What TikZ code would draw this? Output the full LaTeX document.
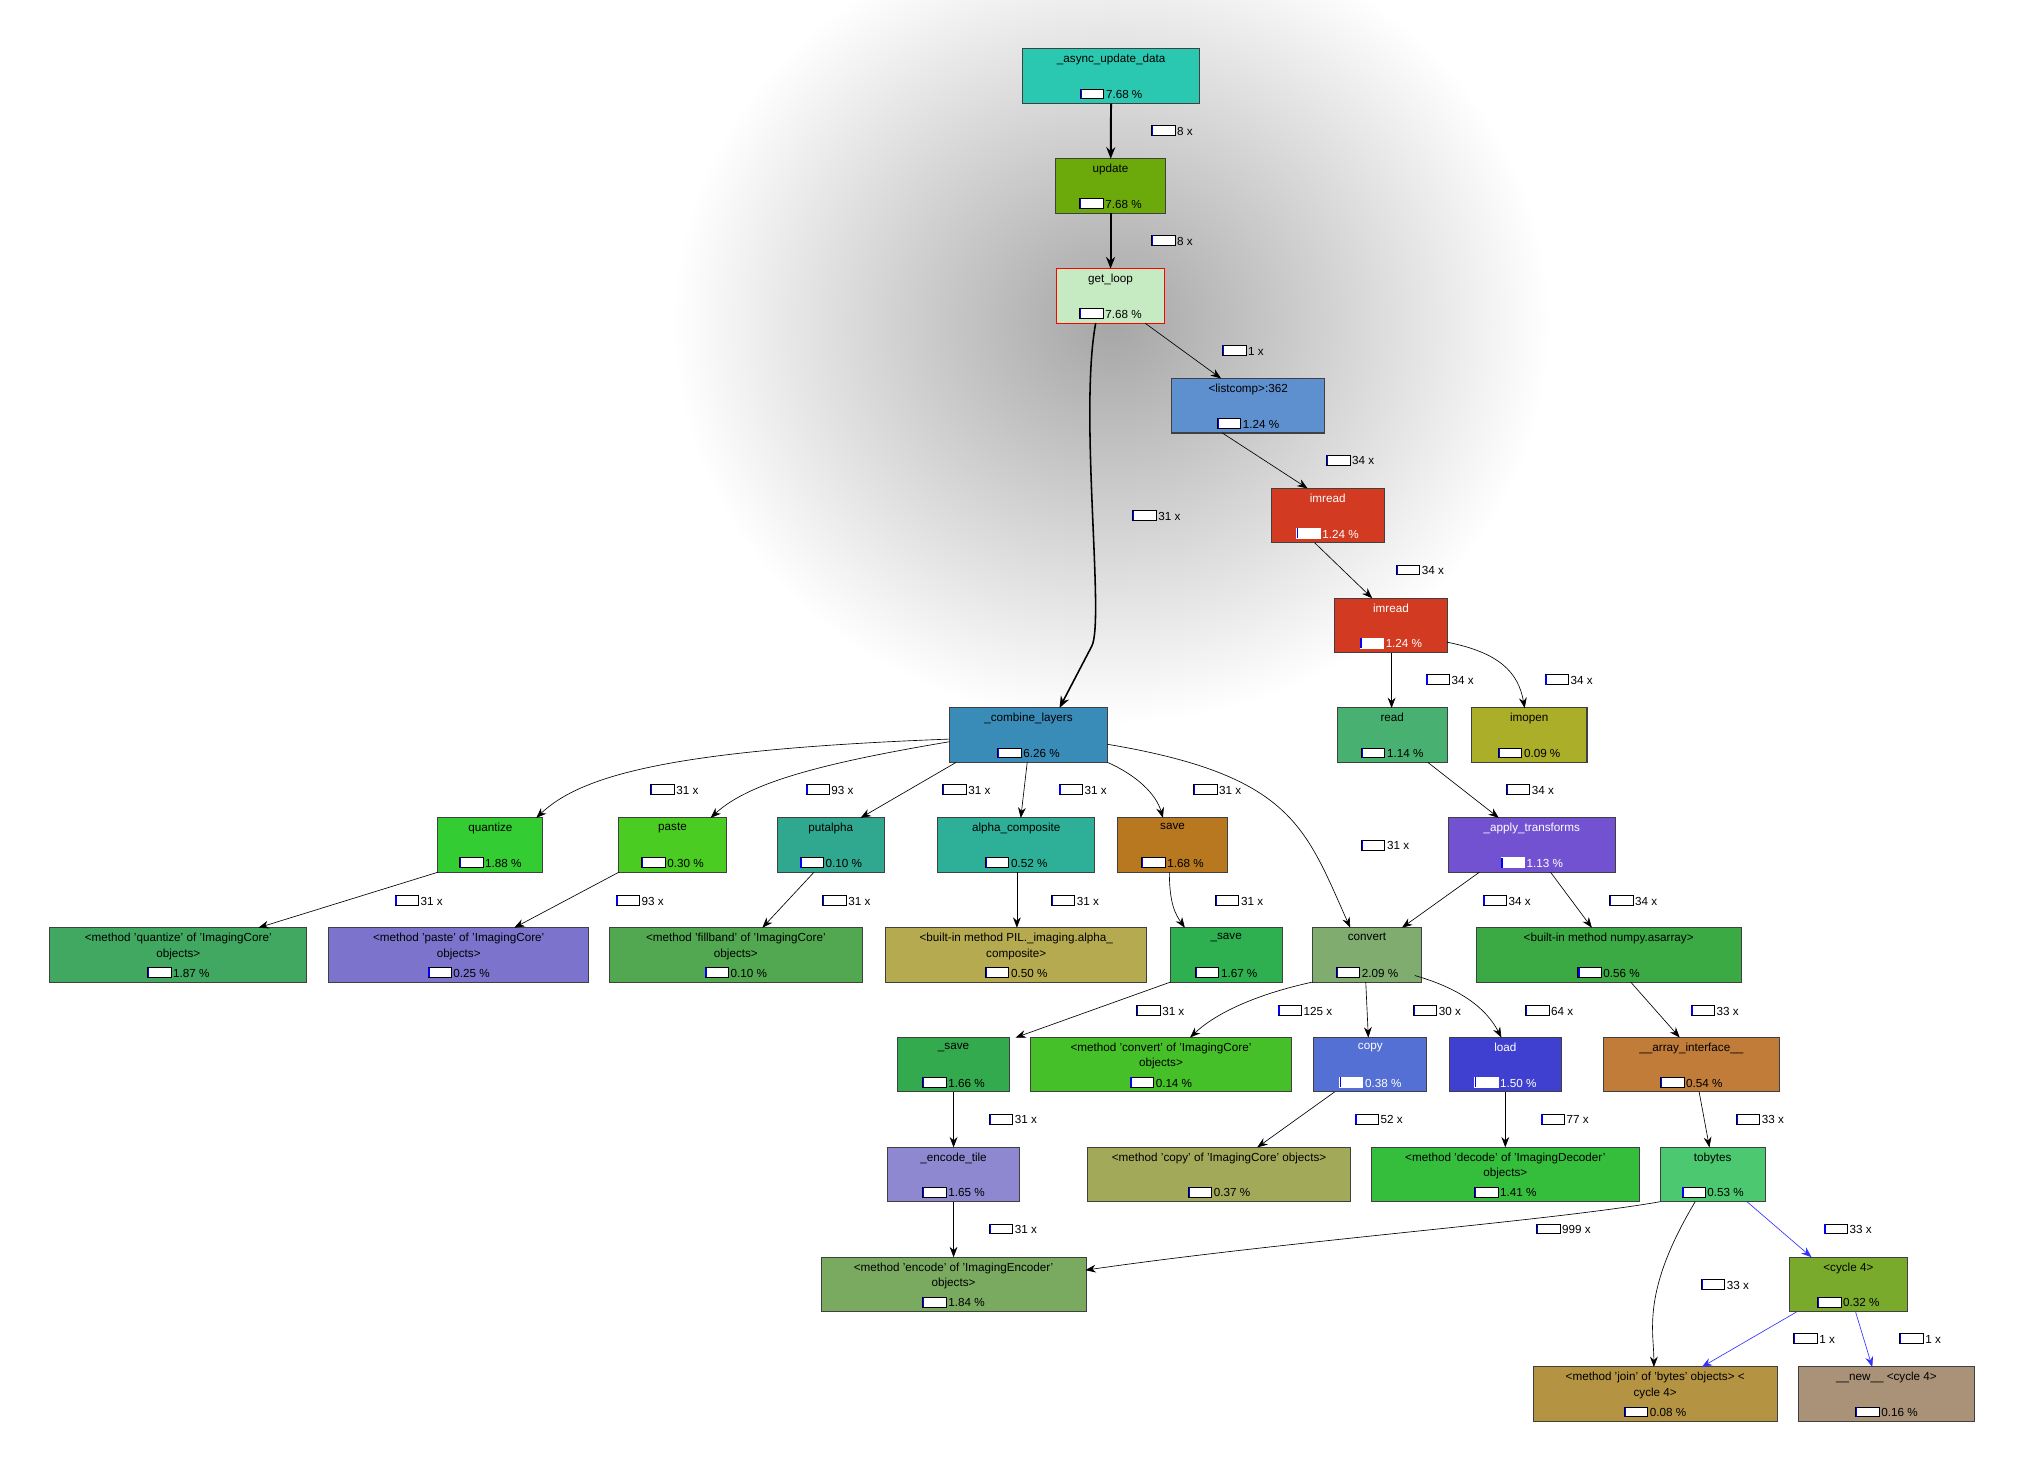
\documentclass[tikz,border=0pt]{standalone}
\usepackage{fontspec}
\setmainfont{Liberation Sans}
\usetikzlibrary{arrows.meta}
\newcommand\barbox{\tikz[baseline=0pt,x=1pt,y=1pt]{\draw[fill=white,line width=0.5pt] (0,0) rectangle (18,7.5); \draw[blue,line width=1pt] (0.8,0) -- (0.8,7.5);}\,}
\newcommand\fnode[9]{%
\node[fbox,fill=#6,minimum width={#4-#2},minimum height={#5-#3}] (#1) at ({(#2+#4)/2},{(#3+#5)/2}) {};
\node[text=#7,anchor=north,align=center,inner sep=0pt,font=\fontsize{9}{12}\selectfont] at ([yshift=-4pt]#1.north) {#8};
\node[text=#7,anchor=south,inner sep=0pt,font=\fontsize{9}{11}\selectfont] at ([yshift=3pt]#1.south) {\barbox#9};}
\definecolor{cAsync}{HTML}{2AC8B0}\definecolor{cUpdate}{HTML}{6BAA0A}\definecolor{cGet}{HTML}{C6EAC2}
\definecolor{cList}{HTML}{5E90D0}\definecolor{cImr}{HTML}{D23A22}\definecolor{cRead}{HTML}{48B070}
\definecolor{cImo}{HTML}{ABAE28}\definecolor{cComb}{HTML}{3A8CB8}\definecolor{cQuant}{HTML}{33CC33}
\definecolor{cPaste}{HTML}{4ACC22}\definecolor{cPut}{HTML}{30A890}\definecolor{cAlph}{HTML}{2EB098}
\definecolor{cSave}{HTML}{B87820}\definecolor{cApply}{HTML}{7252D0}\definecolor{cMq}{HTML}{40A860}
\definecolor{cMp}{HTML}{7C74CC}\definecolor{cMf}{HTML}{52A850}\definecolor{cAb}{HTML}{B6AA50}
\definecolor{cSa}{HTML}{2EB050}\definecolor{cConv}{HTML}{80AC70}\definecolor{cNp}{HTML}{3CAA44}
\definecolor{cSb}{HTML}{34AA4E}\definecolor{cMc}{HTML}{46C028}\definecolor{cCopy}{HTML}{5470D4}
\definecolor{cLoad}{HTML}{4040D0}\definecolor{cArr}{HTML}{C07C38}\definecolor{cEnc}{HTML}{8E88D0}
\definecolor{cMcp}{HTML}{A2AA5A}\definecolor{cMd}{HTML}{34BE3C}\definecolor{cTob}{HTML}{4CC870}
\definecolor{cMe}{HTML}{7AAA60}\definecolor{cCyc}{HTML}{7AAA2C}\definecolor{cJoin}{HTML}{B49442}
\definecolor{cNew}{HTML}{AA9278}
\begin{document}
\begin{tikzpicture}[x=0.995pt,y=-0.995pt,
 fbox/.style={draw=black!75,line width=0.8pt,inner sep=0pt,outer sep=0pt},
 lab/.style={inner sep=0pt,font=\fontsize{9}{11}\selectfont},
 edge/.style={-{Stealth[length=8pt,width=6pt]},line width=0.5pt},
 thk/.style={-{Stealth[length=9pt,width=7pt]},line width=1.5pt},
 bl/.style={edge,draw=blue!80}]
\useasboundingbox (0,0) rectangle (1568,1141);
\fill[white] (0,0) rectangle (1568,1141);
\shade[inner color=black!35,outer color=white] (860,250) ellipse (340 and 310);
% nodes
\fnode{async}{792}{38}{928}{80}{cAsync}{black}{\_async\_update\_data}{7.68 \%}
\fnode{update}{817}{123}{902}{165}{cUpdate}{black}{update}{7.68 \%}
\fnode{getloop}{818}{208}{901}{250}{cGet}{black}{get\_loop}{7.68 \%}
\draw[red,line width=0.8pt] (getloop.north west) rectangle (getloop.south east);
\fnode{listcomp}{907}{293}{1025}{335}{cList}{black}{<listcomp>:362}{1.24 \%}
\fnode{imreadA}{984}{378}{1071}{420}{cImr}{white}{imread}{1.24 \%}
\fnode{imreadB}{1033}{463}{1120}{505}{cImr}{white}{imread}{1.24 \%}
\fnode{read}{1035}{548}{1120}{590}{cRead}{black}{read}{1.14 \%}
\fnode{imopen}{1139}{548}{1228}{590}{cImo}{black}{imopen}{0.09 \%}
\fnode{combine}{735}{548}{857}{590}{cComb}{black}{\_combine\_layers}{6.26 \%}
\fnode{quantize}{339}{633}{420}{675}{cQuant}{black}{quantize}{1.88 \%}
\fnode{paste}{479}{633}{562}{675}{cPaste}{black}{paste}{0.30 \%}
\fnode{putalpha}{602}{633}{684}{675}{cPut}{black}{putalpha}{0.10 \%}
\fnode{alphac}{726}{633}{847}{675}{cAlph}{black}{alpha\_composite}{0.52 \%}
\fnode{save}{865}{633}{950}{675}{cSave}{black}{save}{1.68 \%}
\fnode{apply}{1121}{633}{1250}{675}{cApply}{white}{\_apply\_transforms}{1.13 \%}
\fnode{mquant}{39}{718}{237}{760}{cMq}{black}{<method 'quantize' of 'ImagingCore'\\objects>}{1.87 \%}
\fnode{mpaste}{255}{718}{455}{760}{cMp}{black}{<method 'paste' of 'ImagingCore'\\objects>}{0.25 \%}
\fnode{mfill}{472}{718}{667}{760}{cMf}{black}{<method 'fillband' of 'ImagingCore'\\objects>}{0.10 \%}
\fnode{alphab}{686}{718}{887}{760}{cAb}{black}{<built-in method PIL.\_imaging.alpha\_\\composite>}{0.50 \%}
\fnode{saveA}{906}{718}{992}{760}{cSa}{black}{\_save}{1.67 \%}
\fnode{convert}{1016}{718}{1100}{760}{cConv}{black}{convert}{2.09 \%}
\fnode{numpy}{1143}{718}{1347}{760}{cNp}{black}{<built-in method numpy.asarray>}{0.56 \%}
\fnode{saveB}{695}{803}{781}{845}{cSb}{black}{\_save}{1.66 \%}
\fnode{mconv}{798}{803}{999}{845}{cMc}{black}{<method 'convert' of 'ImagingCore'\\objects>}{0.14 \%}
\fnode{copy}{1017}{803}{1104}{845}{cCopy}{white}{copy}{0.38 \%}
\fnode{load}{1122}{803}{1208}{845}{cLoad}{white}{load}{1.50 \%}
\fnode{arrayi}{1241}{803}{1377}{845}{cArr}{black}{\_\_array\_interface\_\_}{0.54 \%}
\fnode{encode}{687}{888}{789}{930}{cEnc}{black}{\_encode\_tile}{1.65 \%}
\fnode{mcopy}{842}{888}{1045}{930}{cMcp}{black}{<method 'copy' of 'ImagingCore' objects>}{0.37 \%}
\fnode{mdecode}{1062}{888}{1268}{930}{cMd}{black}{<method 'decode' of 'ImagingDecoder'\\objects>}{1.41 \%}
\fnode{tobytes}{1285}{888}{1366}{930}{cTob}{black}{tobytes}{0.53 \%}
\fnode{mencode}{636}{973}{840}{1015}{cMe}{black}{<method 'encode' of 'ImagingEncoder'\\objects>}{1.84 \%}
\fnode{cycle}{1385}{973}{1476}{1015}{cCyc}{black}{<cycle 4>}{0.32 \%}
\fnode{mjoin}{1187}{1058}{1375}{1100}{cJoin}{black}{<method 'join' of 'bytes' objects> <\\cycle 4>}{0.08 \%}
\fnode{new}{1392}{1058}{1528}{1100}{cNew}{black}{\_\_new\_\_ <cycle 4>}{0.16 \%}
% edges
\draw[thk] (async) -- (update);
\draw[thk] (update) -- (getloop);
\draw[edge] (getloop.south east) ++(-15,0) -- (listcomp.north west -| 945,293);
\draw[thk,line width=1.2pt] (848,250) .. controls (835,320) and (855,480) .. (845,500) -- (combine.north -| 820,548);
\draw[edge] (listcomp.south) ++(-20,0) -- (1012,378);
\draw[edge] (imreadA.south) ++(-10,0) -- (1062,463);
\draw[edge] (1077,505) -- (1077,548);
\draw[edge] (1120,497) .. controls (1160,505) and (1175,520) .. (1180,548);
\draw[edge] (735,572) .. controls (520,580) and (450,600) .. (415,633);
\draw[edge] (735,574) .. controls (640,590) and (580,605) .. (550,633);
\draw[edge] (740,590) -- (666,633);
\draw[edge] (795,590) -- (790,633);
\draw[edge] (857,590) .. controls (880,600) and (895,615) .. (900,633);
\draw[edge] (857,576) .. controls (1000,600) and (1010,640) .. (1045,718);
\draw[edge] (1105,590) -- (1160,633);
\draw[edge] (339,675) -- (200,718);
\draw[edge] (479,675) -- (398,718);
\draw[edge] (630,675) -- (590,718);
\draw[edge] (787,675) -- (787,718);
\draw[edge] (905,675) .. controls (905,700) and (910,708) .. (917,718);
\draw[edge] (1145,675) -- (1085,718);
\draw[edge] (1200,675) -- (1232,718);
\draw[edge] (906,760) -- (786,803);
\draw[edge] (1016,760) .. controls (970,770) and (940,785) .. (921,803);
\draw[edge] (1057,760) -- (1059,803);
\draw[edge] (1095,755) .. controls (1130,765) and (1150,780) .. (1162,803);
\draw[edge] (1262,760) -- (1300,803);
\draw[edge] (738,845) -- (738,888);
\draw[edge] (1033,845) -- (973,888);
\draw[edge] (1165,845) -- (1165,888);
\draw[edge] (1315,845) -- (1323,888);
\draw[edge] (738,930) -- (738,973);
\draw[edge] (1285,930) .. controls (1200,945) and (1000,960) .. (840,983);
\draw[bl] (1352,930) -- (1402,973);
\draw[edge] (1312,930) .. controls (1270,1000) and (1280,1030) .. (1280,1058);
\draw[bl] (1391,1015) -- (1317,1058);
\draw[bl] (1436,1015) -- (1449,1058);
% labels
\node[lab] (l1) at (907,101) {\barbox8 x};
\node[lab] (l2) at (907,186) {\barbox8 x};
\node[lab] (l3) at (962,271) {\barbox1 x};
\node[lab] (l4) at (895,399) {\barbox31 x};
\node[lab] (l5) at (1045,356) {\barbox34 x};
\node[lab] (l6) at (1099,441) {\barbox34 x};
\node[lab] (l7) at (1122,526) {\barbox34 x};
\node[lab] (l8) at (1214,526) {\barbox34 x};
\node[lab] (l9) at (522,611) {\barbox31 x};
\node[lab] (l10) at (642,611) {\barbox93 x};
\node[lab] (l11) at (748,611) {\barbox31 x};
\node[lab] (l12) at (838,611) {\barbox31 x};
\node[lab] (l13) at (942,611) {\barbox31 x};
\node[lab] (l14) at (1072,654) {\barbox31 x};
\node[lab] (l15) at (1184,611) {\barbox34 x};
\node[lab] (l16) at (324,697) {\barbox31 x};
\node[lab] (l17) at (495,697) {\barbox93 x};
\node[lab] (l18) at (655,697) {\barbox31 x};
\node[lab] (l19) at (832,697) {\barbox31 x};
\node[lab] (l20) at (959,697) {\barbox31 x};
\node[lab] (l21) at (1166,697) {\barbox34 x};
\node[lab] (l22) at (1264,697) {\barbox34 x};
\node[lab] (l23) at (898,782) {\barbox31 x};
\node[lab] (l24) at (1010,782) {\barbox125 x};
\node[lab] (l25) at (1112,782) {\barbox30 x};
\node[lab] (l26) at (1199,782) {\barbox64 x};
\node[lab] (l27) at (1327,782) {\barbox33 x};
\node[lab] (l28) at (784,866) {\barbox31 x};
\node[lab] (l29) at (1067,866) {\barbox52 x};
\node[lab] (l30) at (1211,866) {\barbox77 x};
\node[lab] (l31) at (1362,866) {\barbox33 x};
\node[lab] (l32) at (784,951) {\barbox31 x};
\node[lab] (l33) at (1210,951) {\barbox999 x};
\node[lab] (l34) at (1430,951) {\barbox33 x};
\node[lab] (l35) at (1335,994) {\barbox33 x};
\node[lab] (l36) at (1404,1036) {\barbox1 x};
\node[lab] (l37) at (1486,1036) {\barbox1 x};
\end{tikzpicture}
\end{document}
